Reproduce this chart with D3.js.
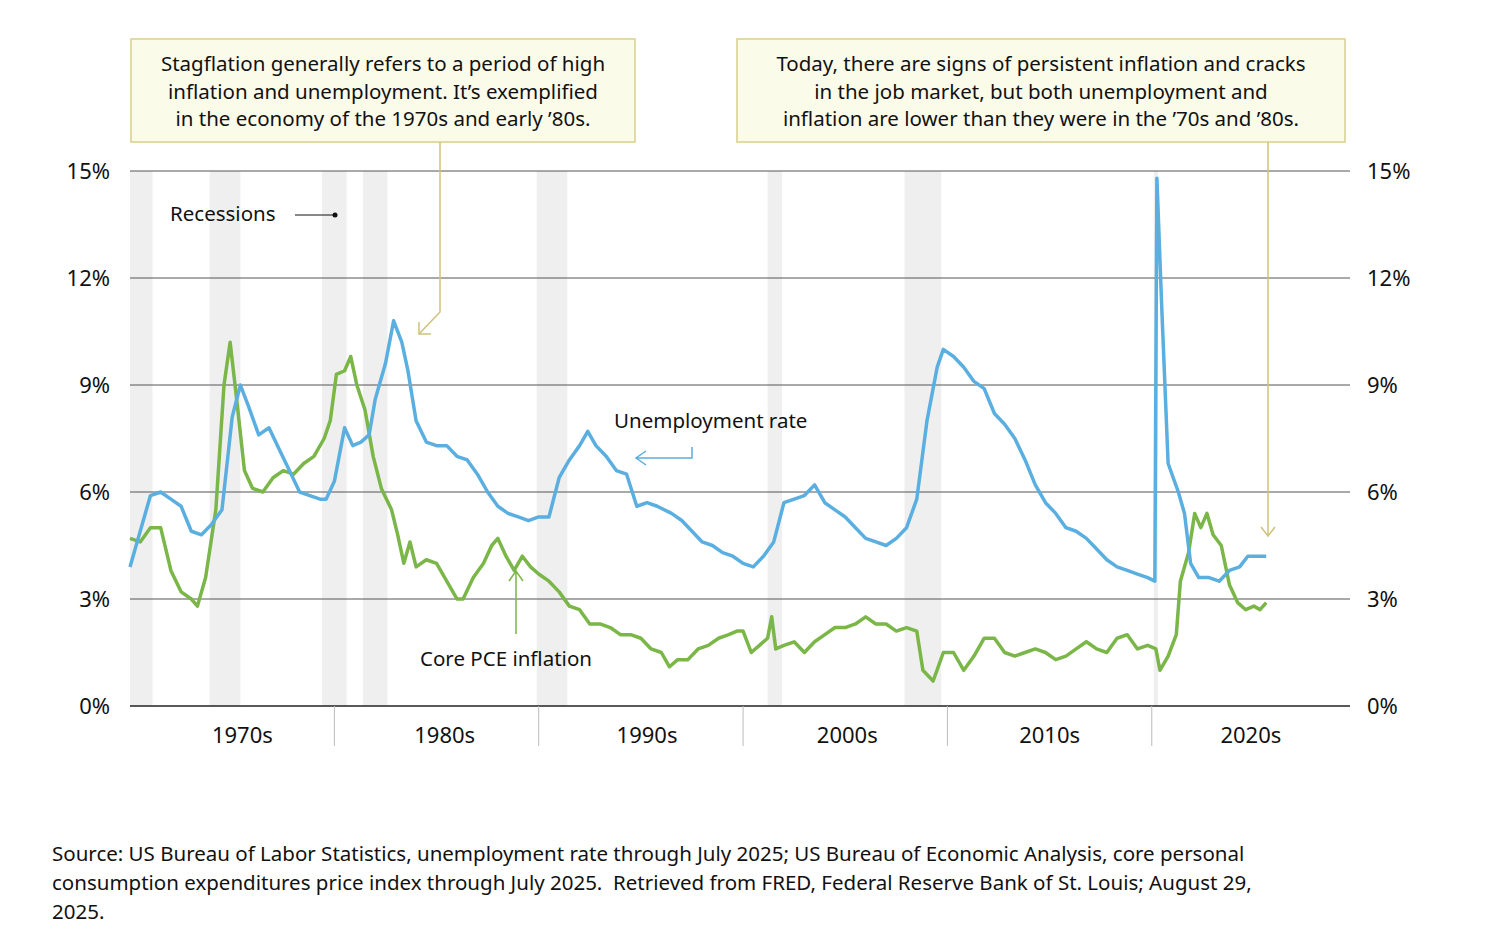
<!DOCTYPE html>
<html><head><meta charset="utf-8">
<script src="https://cdn.jsdelivr.net/npm/d3@7"></script>
<style>body{margin:0;background:#fff}text{font-family:"Noto Sans",sans-serif;fill:#111}</style>
</head><body><svg id="c" width="1500" height="942"></svg>
<script>
const unemployment = [[1970,3.9],[1970.5,4.9],[1971,5.9],[1971.5,6.0],[1972,5.8],[1972.5,5.6],[1973,4.9],[1973.5,4.8],[1974,5.1],[1974.5,5.5],[1975,8.1],[1975.4,9.0],[1975.8,8.4],[1976.3,7.6],[1976.8,7.8],[1977.3,7.2],[1977.8,6.6],[1978.3,6.0],[1978.8,5.9],[1979.3,5.8],[1979.6,5.8],[1980,6.3],[1980.5,7.8],[1980.9,7.3],[1981.3,7.4],[1981.7,7.6],[1982,8.6],[1982.5,9.6],[1982.9,10.8],[1983.3,10.2],[1983.6,9.4],[1984,8.0],[1984.5,7.4],[1985,7.3],[1985.5,7.3],[1986,7.0],[1986.5,6.9],[1987,6.5],[1987.5,6.0],[1988,5.6],[1988.5,5.4],[1989,5.3],[1989.5,5.2],[1990,5.3],[1990.5,5.3],[1991,6.4],[1991.5,6.9],[1992,7.3],[1992.4,7.7],[1992.8,7.3],[1993.3,7.0],[1993.8,6.6],[1994.3,6.5],[1994.8,5.6],[1995.3,5.7],[1995.8,5.6],[1996.5,5.4],[1997,5.2],[1997.5,4.9],[1998,4.6],[1998.5,4.5],[1999,4.3],[1999.5,4.2],[2000,4.0],[2000.5,3.9],[2001,4.2],[2001.5,4.6],[2002,5.7],[2002.5,5.8],[2003,5.9],[2003.5,6.2],[2004,5.7],[2004.5,5.5],[2005,5.3],[2005.5,5.0],[2006,4.7],[2006.5,4.6],[2007,4.5],[2007.5,4.7],[2008,5.0],[2008.5,5.8],[2009,8.0],[2009.5,9.5],[2009.8,10.0],[2010.3,9.8],[2010.8,9.5],[2011.3,9.1],[2011.8,8.9],[2012.3,8.2],[2012.8,7.9],[2013.3,7.5],[2013.8,6.9],[2014.3,6.2],[2014.8,5.7],[2015.3,5.4],[2015.8,5.0],[2016.3,4.9],[2016.8,4.7],[2017.3,4.4],[2017.8,4.1],[2018.3,3.9],[2018.8,3.8],[2019.3,3.7],[2019.8,3.6],[2020.15,3.5],[2020.25,14.8],[2020.5,11.0],[2020.8,6.8],[2021.3,6.0],[2021.6,5.4],[2021.9,4.0],[2022.3,3.6],[2022.8,3.6],[2023.3,3.5],[2023.8,3.8],[2024.3,3.9],[2024.7,4.2],[2025.2,4.2],[2025.6,4.2]];
const corePCE = [[1970,4.7],[1970.5,4.6],[1971,5.0],[1971.5,5.0],[1972,3.8],[1972.5,3.2],[1973,3.0],[1973.3,2.8],[1973.7,3.6],[1974.2,5.5],[1974.6,9.0],[1974.9,10.2],[1975.2,8.7],[1975.6,6.6],[1976,6.1],[1976.5,6.0],[1977,6.4],[1977.5,6.6],[1978,6.5],[1978.5,6.8],[1979,7.0],[1979.5,7.5],[1979.8,8.0],[1980.1,9.3],[1980.5,9.4],[1980.8,9.8],[1981.1,9.0],[1981.5,8.3],[1981.9,7.0],[1982.3,6.1],[1982.8,5.5],[1983.1,4.8],[1983.4,4.0],[1983.7,4.6],[1984,3.9],[1984.5,4.1],[1985,4.0],[1985.5,3.5],[1986,3.0],[1986.3,3.0],[1986.8,3.6],[1987.3,4.0],[1987.7,4.5],[1988,4.7],[1988.4,4.2],[1988.8,3.8],[1989.2,4.2],[1989.6,3.9],[1990,3.7],[1990.5,3.5],[1991,3.2],[1991.5,2.8],[1992,2.7],[1992.5,2.3],[1993,2.3],[1993.5,2.2],[1994,2.0],[1994.5,2.0],[1995,1.9],[1995.5,1.6],[1996,1.5],[1996.4,1.1],[1996.8,1.3],[1997.3,1.3],[1997.8,1.6],[1998.3,1.7],[1998.8,1.9],[1999.3,2.0],[1999.7,2.1],[2000,2.1],[2000.4,1.5],[2000.8,1.7],[2001.2,1.9],[2001.4,2.5],[2001.6,1.6],[2002,1.7],[2002.5,1.8],[2003,1.5],[2003.5,1.8],[2004,2.0],[2004.5,2.2],[2005,2.2],[2005.5,2.3],[2006,2.5],[2006.5,2.3],[2007,2.3],[2007.5,2.1],[2008,2.2],[2008.5,2.1],[2008.8,1.0],[2009.3,0.7],[2009.8,1.5],[2010.3,1.5],[2010.8,1.0],[2011.3,1.4],[2011.8,1.9],[2012.3,1.9],[2012.8,1.5],[2013.3,1.4],[2013.8,1.5],[2014.3,1.6],[2014.8,1.5],[2015.3,1.3],[2015.8,1.4],[2016.3,1.6],[2016.8,1.8],[2017.3,1.6],[2017.8,1.5],[2018.3,1.9],[2018.8,2.0],[2019.3,1.6],[2019.8,1.7],[2020.2,1.6],[2020.4,1.0],[2020.8,1.4],[2021.2,2.0],[2021.4,3.5],[2021.8,4.3],[2022.1,5.4],[2022.4,5.0],[2022.7,5.4],[2023,4.8],[2023.4,4.5],[2023.8,3.4],[2024.2,2.9],[2024.6,2.7],[2025,2.8],[2025.3,2.7],[2025.6,2.9]];
const recessions = [[1970,1971.1],[1973.9,1975.4],[1979.4,1980.6],[1981.4,1982.6],[1989.9,1991.4],[2001.2,2001.9],[2007.9,2009.7],[2020.1,2020.3]];
const decades = ["1970s","1980s","1990s","2000s","2010s","2020s"];
const decadeCenters = [1975.5,1985.4,1995.3,2005.1,2015.0,2024.85];
const yTicks = [0,3,6,9,12,15];

const svg = d3.select("#c");
const x = d3.scaleLinear().domain([1970, 2029.7]).range([130, 1350]);
const y = d3.scaleLinear().domain([0, 15]).range([706, 171]);

svg.selectAll(".rec").data(recessions).join("rect")
  .attr("x", d => x(d[0])).attr("width", d => x(d[1]) - x(d[0]))
  .attr("y", y(15)).attr("height", y(0) - y(15)).attr("fill", "#efefef");

svg.selectAll(".grid").data(yTicks).join("line")
  .attr("x1", 130).attr("x2", 1350).attr("y1", d => y(d)).attr("y2", d => y(d))
  .attr("stroke", d => d === 0 ? "#222" : "#555").attr("stroke-width", d => d === 0 ? 1.5 : 1);

svg.selectAll(".yl").data(yTicks).join("text")
  .attr("x", 110).attr("y", d => y(d) + 8).attr("text-anchor", "end").attr("font-size", 22).text(d => d + "%");
svg.selectAll(".yr").data(yTicks).join("text")
  .attr("x", 1367).attr("y", d => y(d) + 8).attr("font-size", 22).text(d => d + "%");

svg.selectAll(".sep").data(d3.range(1980, 2030, 10)).join("line")
  .attr("x1", d => x(d)).attr("x2", d => x(d)).attr("y1", 706).attr("y2", 746).attr("stroke", "#bbb");
svg.selectAll(".dec").data(decades).join("text")
  .attr("x", (d, i) => x(decadeCenters[i])).attr("y", 743).attr("text-anchor", "middle")
  .attr("font-size", 22).text(d => d);

const line = d3.line().x(d => x(d[0])).y(d => y(d[1]));
svg.append("path").datum(corePCE).attr("d", line).attr("fill", "none").attr("stroke", "#7ab648").attr("stroke-width", 3.5).attr("stroke-linejoin", "round");
svg.append("path").datum(unemployment).attr("d", line).attr("fill", "none").attr("stroke", "#5aafe0").attr("stroke-width", 3.5).attr("stroke-linejoin", "round");

// annotation boxes
const boxes = [
  {x: 131, w: 504, lines: ["Stagflation generally refers to a period of high", "inflation and unemployment. It\u2019s exemplified", "in the economy of the 1970s and early \u201980s."]},
  {x: 737, w: 608, lines: ["Today, there are signs of persistent inflation and cracks", "in the job market, but both unemployment and", "inflation are lower than they were in the \u201970s and \u201980s."]}
];
boxes.forEach(b => {
  svg.append("rect").attr("x", b.x).attr("y", 39).attr("width", b.w).attr("height", 103)
    .attr("fill", "#fbfbea").attr("stroke", "#d9d08a").attr("stroke-width", 1.5);
  b.lines.forEach((t, i) => svg.append("text").attr("x", b.x + b.w / 2).attr("y", 71 + i * 27.5)
    .attr("text-anchor", "middle").attr("font-size", 20.5).text(t));
});
const gold = "#cfc27a";
svg.append("path").attr("d", "M440,142V312L419,334").attr("fill", "none").attr("stroke", gold).attr("stroke-width", 1.5);
svg.append("path").attr("d", "M419,322L419,334L431,334").attr("fill", "none").attr("stroke", gold).attr("stroke-width", 1.5);
svg.append("path").attr("d", "M1268,142V535").attr("fill", "none").attr("stroke", gold).attr("stroke-width", 1.5);
svg.append("path").attr("d", "M1261,527L1268,536L1275,527").attr("fill", "none").attr("stroke", gold).attr("stroke-width", 1.5);

// labels
svg.append("text").attr("x", 170).attr("y", 221).attr("font-size", 20.5).text("Recessions");
svg.append("line").attr("x1", 295).attr("x2", 333).attr("y1", 215).attr("y2", 215).attr("stroke", "#111");
svg.append("circle").attr("cx", 335).attr("cy", 215).attr("r", 2.5).attr("fill", "#111");

svg.append("text").attr("x", 614).attr("y", 428).attr("font-size", 20.5).text("Unemployment rate");
svg.append("path").attr("d", "M692,447V458H636M646,451L636,458L646,465").attr("fill", "none").attr("stroke", "#5aafe0").attr("stroke-width", 1.5);

svg.append("text").attr("x", 420).attr("y", 666).attr("font-size", 20.5).text("Core PCE inflation");
svg.append("path").attr("d", "M516,634V571M509,581L516,571L523,581").attr("fill", "none").attr("stroke", "#7ab648").attr("stroke-width", 1.5);

const src = ["Source: US Bureau of Labor Statistics, unemployment rate through July 2025; US Bureau of Economic Analysis, core personal",
  "consumption expenditures price index through July 2025.  Retrieved from FRED, Federal Reserve Bank of St. Louis; August 29,",
  "2025."];
src.forEach((t, i) => svg.append("text").attr("x", 52).attr("y", 861 + i * 29).attr("font-size", 20.5).attr("xml:space", "preserve").text(t));
</script></body></html>
